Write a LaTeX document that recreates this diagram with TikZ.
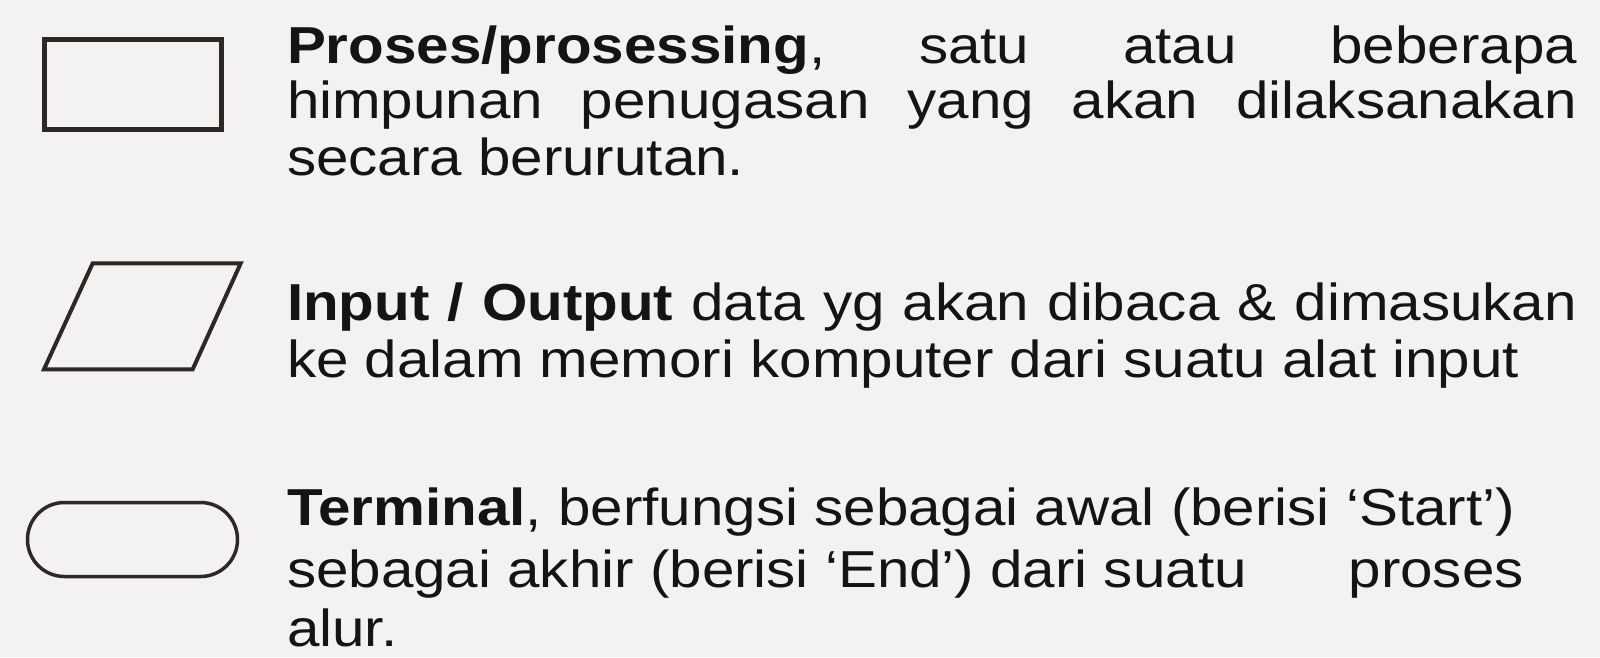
\documentclass[tikz,border=0pt]{standalone}
\usepackage{fontspec}
\setmainfont[FakeStretch=1.122]{Liberation Sans}
\definecolor{bg}{RGB}{243,242,240}
\definecolor{ink}{RGB}{20,20,20}
\definecolor{shapeink}{RGB}{45,40,38}
\begin{document}
\begin{tikzpicture}[x=1pt,y=-1pt,
  txt/.style={anchor=base west, inner sep=0pt, outer sep=0pt, text=ink, font=\fontsize{52}{60}\selectfont},
  symb/.style={draw=shapeink, line width=4.5pt, line join=miter}]
\useasboundingbox (0,0) rectangle (1600,657);
\fill[bg] (0,0) rectangle (1600,657);
% symbols
\draw[symb] (44.5,39.5) rectangle (221.5,129.5);
\draw[symb, line width=4pt] (92.7,263.3) -- (240.7,263.3) -- (192.7,369.3) -- (44,369.3) -- cycle;
\draw[symb, line width=3.5pt, rounded corners=36.9pt] (27.5,502.5) rectangle (237.5,576.5);
% section 1
\node[txt] (a1) at (287,63) {\hbox to 1290pt{\textbf{Proses/prosessing},\hfill satu\hfill atau\hfill beberapa}};
\node[txt] (a2) at (287,118) {\hbox to 1290pt{himpunan\hfill penugasan\hfill yang\hfill akan\hfill dilaksanakan}};
\node[txt] (a3) at (287,175) {secara berurutan.};
% section 2
\node[txt] (b1) at (287,320) {\hbox to 1290pt{\textbf{Input / Output} data yg akan dibaca \& dimasukan}};
\node[txt] (b2) at (287,377) {ke dalam memori komputer dari suatu alat input};
% section 3
\node[txt] (c1) at (287,525) {\textbf{Terminal}, berfungsi sebagai awal (berisi ‘Start’)};
\node[txt] (c2) at (287,587) {\hbox to 1237pt{sebagai akhir (berisi ‘End’) dari suatu\hfill proses}};
\node[txt] (c3) at (287,646) {alur.};
\end{tikzpicture}
\end{document}
